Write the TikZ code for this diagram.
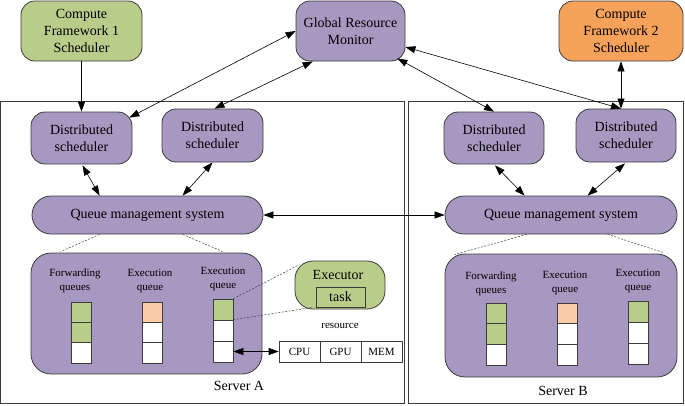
\documentclass[tikz,border=0pt]{standalone}
\usepackage{fontspec}
\setmainfont{Liberation Serif}
\usetikzlibrary{arrows.meta,calc}
\definecolor{purp}{RGB}{167,152,193}
\definecolor{grn}{RGB}{185,205,138}
\definecolor{orng}{RGB}{246,162,90}
\definecolor{lorng}{RGB}{250,205,167}
\definecolor{edge}{RGB}{60,60,60}
\begin{document}
\begin{tikzpicture}[x=1pt,y=-1pt,
  box/.style={draw=edge, line width=0.8pt, rounded corners=14pt, align=center, inner sep=0pt, font=\fontsize{14}{17}\selectfont},
  pbox/.style={box, fill=purp},
  cell/.style={draw=edge, line width=0.7pt, minimum width=20pt, inner sep=0pt, fill=white},
  lbl/.style={font=\fontsize{11}{14}\selectfont, align=center, inner sep=0pt},
  big/.style={font=\fontsize{14}{17}\selectfont, inner sep=0pt},
  arr/.style={draw=black, line width=0.6pt, -{Triangle[length=10pt,width=7pt]}},
  darr/.style={draw=black, line width=0.6pt, {Triangle[length=10pt,width=7pt]}-{Triangle[length=10pt,width=7pt]}},
  dsh/.style={draw=edge, line width=0.5pt, dash pattern=on 2pt off 1.5pt},
  srv/.style={draw=edge, line width=0.8pt}
]
\useasboundingbox (0,0) rectangle (685,405);
% server frames
\draw[srv] (0.5,101) rectangle (404,403);
\draw[srv] (408,101) rectangle (683.5,403);

% top nodes
\node[box, fill=grn, minimum width=121pt, minimum height=60pt] (cf1) at (81.5,31) {Compute\\Framework 1\\Scheduler};
\node[pbox, minimum width=109pt, minimum height=60pt] (grm) at (350.5,31) {Global Resource\\Monitor};
\node[box, fill=orng, minimum width=124pt, minimum height=60pt] (cf2) at (621,31) {Compute\\Framework 2\\Scheduler};

% distributed schedulers
\node[pbox, minimum width=101pt, minimum height=52pt] (dsa1) at (81.5,138) {Distributed\\scheduler};
\node[pbox, minimum width=101pt, minimum height=53pt] (dsa2) at (212.5,135.5) {Distributed\\scheduler};
\node[pbox, minimum width=100pt, minimum height=52pt] (dsb1) at (494,138) {Distributed\\scheduler};
\node[pbox, minimum width=100pt, minimum height=53pt] (dsb2) at (626,135.5) {Distributed\\scheduler};

% queue management systems
\node[pbox, rounded corners=19pt, minimum width=231pt, minimum height=38pt] (qmsa) at (147.5,215) {Queue management system};
\node[pbox, rounded corners=19pt, minimum width=232pt, minimum height=38pt] (qmsb) at (561,215) {Queue management system};

% containers
\node[pbox, rounded corners=20pt, minimum width=231pt, minimum height=121pt] (conta) at (146.5,313.5) {};
\node[pbox, rounded corners=20pt, minimum width=232pt, minimum height=123pt] (contb) at (561,315.5) {};

% queue labels A
\node[lbl] (la1) at (75,281) {Forwarding\\queues};
\node[lbl] (la2) at (150,281) {Execution\\queue};
\node[lbl] (la3) at (223,279) {Execution\\queue};
% queue labels B
\node[lbl] (lb1) at (491,283.5) {Forwarding\\queues};
\node[lbl] (lb2) at (565,283.5) {Execution\\queue};
\node[lbl] (lb3) at (638,281) {Execution\\queue};

% cells A
\node[cell, fill=grn, minimum height=20.3pt] (a1a) at (81,312.2) {};
\node[cell, fill=grn, minimum height=20.3pt] (a1b) at (81,332.5) {};
\node[cell, minimum height=20.3pt] (a1c) at (81,352.8) {};
\node[cell, fill=lorng, minimum height=20.3pt] (a2a) at (152,312.2) {};
\node[cell, minimum height=20.3pt] (a2b) at (152,332.5) {};
\node[cell, minimum height=20.3pt] (a2c) at (152,352.8) {};
\node[cell, fill=grn, minimum height=21pt] (a3a) at (223,309.5) {};
\node[cell, minimum height=21pt] (a3b) at (223,330.5) {};
\node[cell, minimum height=21pt] (a3c) at (223,351.5) {};
% cells B
\node[cell, fill=grn, minimum height=20.7pt] (b1a) at (496.5,313.3) {};
\node[cell, fill=grn, minimum height=20.7pt] (b1b) at (496.5,334) {};
\node[cell, minimum height=20.7pt] (b1c) at (496.5,354.7) {};
\node[cell, fill=lorng, minimum height=20.7pt] (b2a) at (567,313.3) {};
\node[cell, minimum height=20.7pt] (b2b) at (567,334) {};
\node[cell, minimum height=20.7pt] (b2c) at (567,354.7) {};
\node[cell, fill=grn, minimum height=21pt] (b3a) at (638,311.5) {};
\node[cell, minimum height=21pt] (b3b) at (638,332.5) {};
\node[cell, minimum height=21pt] (b3c) at (638,353.5) {};

% executor
\node[box, fill=grn, rounded corners=18pt, minimum width=90pt, minimum height=48pt] (exec) at (340,285) {};
\node[big] (exectxt) at (338,275) {Executor};
\node[draw=edge, line width=0.7pt, fill=grn, minimum width=49pt, minimum height=20pt, inner sep=0pt, font=\fontsize{14}{17}\selectfont] (task) at (340.5,297) {task};

% resources
\node[lbl] (res) at (340,326) {resource};
\node[draw=edge, line width=0.6pt, fill=white, minimum width=41pt, minimum height=21pt, inner sep=0pt, font=\fontsize{11}{14}\selectfont] (cpu) at (299.5,351.5) {CPU};
\node[draw=edge, line width=0.6pt, fill=white, minimum width=41pt, minimum height=21pt, inner sep=0pt, font=\fontsize{11}{14}\selectfont] (gpu) at (340.5,351.5) {GPU};
\node[draw=edge, line width=0.6pt, fill=white, minimum width=41pt, minimum height=21pt, inner sep=0pt, font=\fontsize{11}{14}\selectfont] (mem) at (381.5,351.5) {MEM};

% server labels
\node[big] (sa) at (239,386) {Server A};
\node[big] (sb) at (563,391) {Server B};

% arrows
\draw[arr] (cf1.south) -- (dsa1.north);
\draw[darr] ($(dsa1.north east)+(-3,6)$) -- (grm.west);
\draw[darr] ($(dsa2.north)+(2,0)$) -- ($(grm.south west)+(17,0)$);
\draw[darr] ($(grm.south east)+(-8,-3)$) -- (dsb1.north);
\draw[darr] ($(grm.east)+(0,16)$) -- (cf2.south |- dsb2.north);
\draw[darr] (cf2.south) -- (cf2.south |- dsb2.north);
\draw[darr] ($(dsa1.south)+(1,1)$) -- ($(qmsa.north west)+(68,0)$);
\draw[darr] (dsa2.south) -- ($(qmsa.north west)+(151,0)$);
\draw[darr] ($(dsb1.south)+(1,1)$) -- ($(qmsb.north west)+(80,0)$);
\draw[darr] ($(dsb2.south)+(-1,1)$) -- ($(qmsb.north west)+(143,0)$);
\draw[darr] (qmsa.east) -- (qmsb.west);
\draw[darr] (a3c.east) -- (cpu.west);

% dashed
\draw[dsh] ($(qmsa.south west)+(68,0)$) -- ($(conta.north west)+(30,-1)$);
\draw[dsh] ($(qmsa.south west)+(151,0)$) -- ($(conta.north west)+(192,-1)$);
\draw[dsh] ($(qmsb.south west)+(82,0)$) -- ($(contb.north west)+(10,1)$);
\draw[dsh] ($(qmsb.south west)+(163,0)$) -- ($(contb.north east)+(-14,-1)$);
\draw[dsh] (a3a.north east) -- ($(exec.north west)+(5,4)$);
\draw[dsh] (a3b.north east) -- ($(exec.south west)+(18,-2)$);
\end{tikzpicture}
\end{document}
